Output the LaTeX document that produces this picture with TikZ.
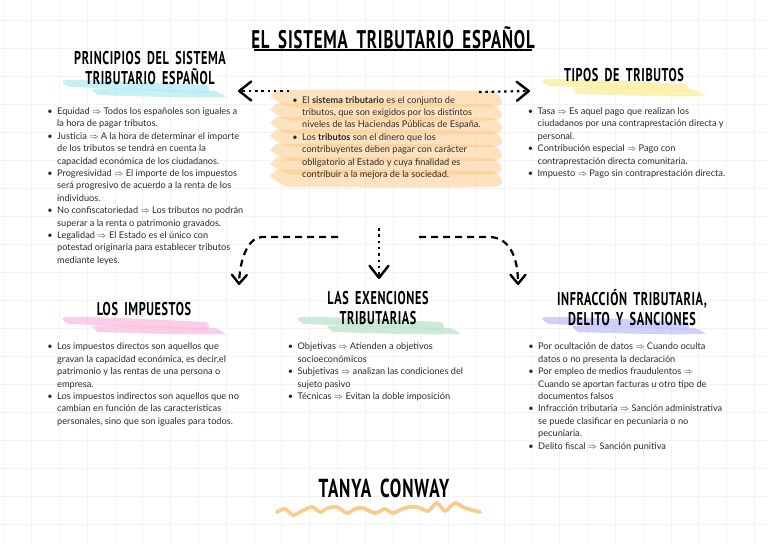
\documentclass[tikz,border=0pt]{standalone}
\usepackage{fontspec}
\setmainfont{Lato}
\newfontfamily\headfont[FakeStretch=0.66,LetterSpace=3.3,WordSpace=1.7]{PT Sans}
\usetikzlibrary{arrows.meta}
\definecolor{gridline}{HTML}{F3F3F3}
\definecolor{bodytext}{HTML}{2B2B2B}
\definecolor{brushblue}{HTML}{B5ECF4}
\definecolor{brushyellow}{HTML}{FBEE9E}
\definecolor{brushpink}{HTML}{F9BFE4}
\definecolor{brushgreen}{HTML}{BFE3CF}
\definecolor{brushlilac}{HTML}{C6C3FA}
\definecolor{brushorange}{HTML}{FCCB8C}
\newcommand{\bul}{\makebox[0pt][r]{\textbullet\hspace{4.5pt}}}
\newcommand{\impl}{$\Rightarrow$}
\newcommand{\brush}[3]{%
	\fill[#3,opacity=.78,shift={(#1,#2)}] (0,3) .. controls (1,1) and (3,1) .. (6,1) .. controls (50,1) and (100,4) .. (144,6) .. controls (148,9) and (148,12) .. (146,14) .. controls (90,12) and (40,9) .. (7,8) .. controls (4,7) and (2,5) .. (0,3) -- cycle;
	\fill[#3,opacity=.78,shift={(#1,#2)}] (30,10) .. controls (70,8) and (120,12) .. (152,12) .. controls (156,13) and (160,15) .. (164,18) .. controls (120,19) and (70,17) .. (36,16) .. controls (33,14) and (31,12) .. (30,10) -- cycle;
}
\newcommand{\orangerow}[2]{%
	\fill[brushorange,opacity=.55,shift={(#1,#2)}] (6,0) .. controls (80,-1) and (160,0) .. (222,1) .. controls (229,4) and (232,8) .. (232,12) .. controls (231,16) and (226,17) .. (220,17) .. controls (150,18) and (80,17) .. (18,17) .. controls (10,14) and (5,10) .. (0,6) -- cycle;
}
\tikzstyle{tributo_style}=[
	heading/.style={align=center,text=black,inner sep=0pt,font=\headfont\bfseries\fontsize{18.5}{20.5}\selectfont},
	body/.style={align=left,anchor=north west,inner sep=0pt,text=bodytext,font=\fontsize{9.2}{12.4}\selectfont},
	dotted_edge/.style={-{Straight Barb[round,length=12pt,width=19pt,line width=2.4pt]},line width=2.2pt,dash pattern=on 2.5pt off 3.8pt},
	dashed_edge/.style={-{Straight Barb[round,length=9pt,width=15pt,line width=2.4pt]},line width=2.2pt,dash pattern=on 7pt off 5pt}
]
\begin{document}
\begin{tikzpicture}[tributo_style,x=1pt,y=-1pt]
		
		\useasboundingbox (0,0) rectangle (768,544);
		\fill[white] (0,0) rectangle (768,544);
		
		% cuadricula
		\foreach \gx in {0,...,27}
			\draw[gridline,line width=.6pt] (3.7+27.8*\gx,0) -- (3.7+27.8*\gx,544);
		\foreach \gy in {0,...,18}
			\draw[gridline,line width=.6pt] (0,20.5+28*\gy) -- (768,20.5+28*\gy);
		
		% manchas
		\brush{62}{79}{brushblue}
		\brush{542}{78}{brushyellow}
		\brush{62}{316}{brushpink}
		\brush{297}{316}{brushgreen}
		\brush{542}{316}{brushlilac}
		\foreach \ry in {90,103.5,117,130,144,157.5,170}
			\orangerow{270}{\ry}
		\draw[brushorange,opacity=.85,line width=3pt,line cap=round] plot[smooth] coordinates {(277,512) (285,509) (293,515) (302,511) (312,507) (320,512) (328,508) (337,507) (347,513) (355,509) (363,508) (375,513) (385,509) (393,513) (405,508) (417,507) (428,511) (437,503) (445,511) (455,503) (465,508) (480,512)};
		
		% titulos
		\node[heading,font=\headfont\bfseries\fontsize{25.5}{27}\selectfont] (titulo) at (393,38) {EL SISTEMA TRIBUTARIO ESPAÑOL};
		\node[heading] (principios) at (150,68) {PRINCIPIOS DEL SISTEMA\\TRIBUTARIO ESPAÑOL};
		\node[heading] (tipos) at (624,75) {TIPOS DE TRIBUTOS};
		\node[heading] (impuestos) at (144,309) {LOS IMPUESTOS};
		\node[heading] (exenciones) at (378,308) {LAS EXENCIONES\\TRIBUTARIAS};
		\node[heading] (infraccion) at (632,307.5) {INFRACCIÓN TRIBUTARIA,\\DELITO Y SANCIONES};
		\node[heading,font=\headfont\bfseries\fontsize{26}{28}\selectfont] (autora) at (384,488) {TANYA CONWAY};
		
		\draw[black,line width=2pt] (254,50) -- (532,50);
		
		% textos
		\node[body] (intro) at (302,96) {\bul El \textbf{sistema tributario} es el conjunto de\\tributos, que son exigidos por los distintos\\niveles de las Haciendas Públicas de España.\\\bul Los \textbf{tributos} son el dinero que los\\contribuyentes deben pagar con carácter\\obligatorio al Estado y cuya finalidad es\\contribuir a la mejora de la sociedad.};
		
		\node[body] (lista_principios) at (57,107.5) {\bul Equidad \impl{} Todos los españoles son iguales a\\la hora de pagar tributos.\\\bul Justicia \impl{} A la hora de determinar el importe\\de los tributos se tendrá en cuenta la\\capacidad económica de los ciudadanos.\\\bul Progresividad \impl{} El importe de los impuestos\\será progresivo de acuerdo a la renta de los\\individuos.\\\bul No confiscatoriedad \impl{} Los tributos no podrán\\superar a la renta o patrimonio gravados.\\\bul Legalidad \impl{} El Estado es el único con\\potestad originaria para establecer tributos\\mediante leyes.};
		
		\node[body] (lista_tipos) at (537.5,107.5) {\bul Tasa \impl{} Es aquel pago que realizan los\\ciudadanos por una contraprestación directa y\\personal.\\\bul Contribución especial \impl{} Pago con\\contraprestación directa comunitaria.\\\bul Impuesto \impl{} Pago sin contraprestación directa.};
		
		\node[body] (lista_impuestos) at (57,343) {\bul Los impuestos directos son aquellos que\\gravan la capacidad económica, es decir,el\\patrimonio y las rentas de una persona o\\empresa.\\\bul Los impuestos indirectos son aquellos que no\\cambian en función de las características\\personales, sino que son iguales para todos.};
		
		\node[body] (lista_exenciones) at (297.5,343) {\bul Objetivas \impl{} Atienden a objetivos\\socioeconómicos\\\bul Subjetivas \impl{} analizan las condiciones del\\sujeto pasivo\\\bul Técnicas \impl{} Evitan la doble imposición};
		
		\node[body] (lista_infraccion) at (538,343) {\bul Por ocultación de datos \impl{} Cuando oculta\\datos o no presenta la declaración\\\bul Por empleo de medios fraudulentos \impl{}\\Cuando se aportan facturas u otro tipo de\\documentos falsos\\\bul Infracción tributaria \impl{} Sanción administrativa\\se puede clasificar en pecuniaria o no\\pecuniaria.\\\bul Delito fiscal \impl{} Sanción punitiva};
		
		% flechas
		\coordinate (fin_principios) at (238,91);
		\coordinate (fin_tipos) at (530,91);
		\coordinate (fin_impuestos) at (239,285);
		\coordinate (fin_exenciones) at (379,279);
		\coordinate (fin_infraccion) at (518,285);
		
		\draw[dotted_edge] ([shift={(-13,-5)}]intro.north west) -- (fin_principios);
		\draw[dotted_edge] ([shift={(177,-4)}]intro.north west) -- (fin_tipos);
		\draw[dotted_edge] ([shift={(77,132)}]intro.north west) -- (fin_exenciones);
		\draw[dashed_edge] ([shift={(36,141)}]intro.north west) -- ++(-76,0) .. controls (250,237) and (240,255) .. (fin_impuestos);
		\draw[dashed_edge] ([shift={(117,141)}]intro.north west) -- ++(70,0) .. controls (508,237) and (518,255) .. (fin_infraccion);
		
\end{tikzpicture}
\end{document}
